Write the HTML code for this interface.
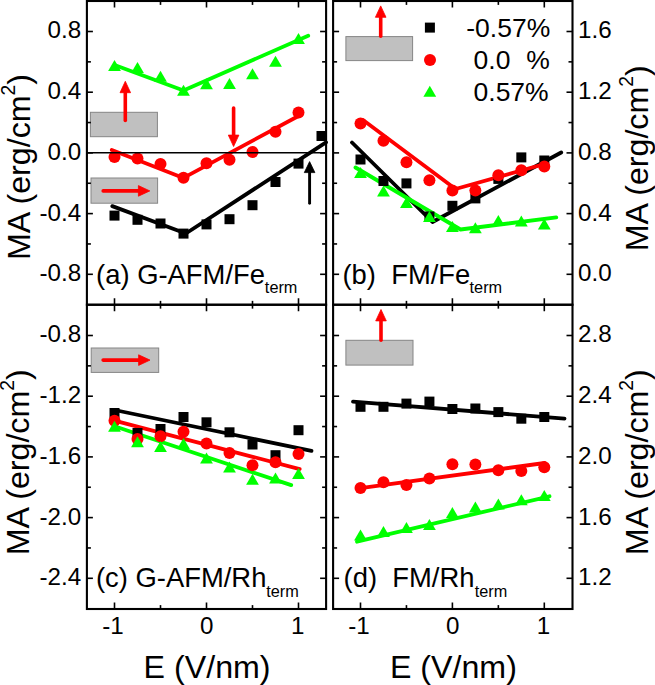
<!DOCTYPE html>
<html><head><meta charset="utf-8"><style>
html,body{margin:0;padding:0;background:#fff;width:655px;height:685px;overflow:hidden}
svg{display:block}
text{font-family:"Liberation Sans",sans-serif;fill:#000}
</style></head><body>
<svg width="655" height="685" viewBox="0 0 655 685">
<rect width="655" height="685" fill="#fff"/>
<rect x="90.40" y="112.30" width="67.00" height="24.40" fill="#c0c0c0" stroke="#858585" stroke-width="1"/>
<rect x="91.00" y="178.00" width="66.60" height="25.20" fill="#c0c0c0" stroke="#858585" stroke-width="1"/>
<line x1="125.30" y1="120.50" x2="125.30" y2="90.70" stroke="#ff0000" stroke-width="3.6" stroke-linecap="round"/>
<path d="M125.30 81.30L130.60 92.70L120.00 92.70Z" fill="#ff0000" stroke="#ff0000" stroke-width="0.8" stroke-linejoin="round"/>
<line x1="233.60" y1="108.00" x2="233.60" y2="137.10" stroke="#ff0000" stroke-width="3.6" stroke-linecap="round"/>
<path d="M233.60 146.50L228.30 135.10L238.90 135.10Z" fill="#ff0000" stroke="#ff0000" stroke-width="0.8" stroke-linejoin="round"/>
<line x1="103.20" y1="190.90" x2="140.40" y2="190.90" stroke="#ff0000" stroke-width="3.6" stroke-linecap="round"/>
<path d="M149.80 190.90L138.40 196.20L138.40 185.60Z" fill="#ff0000" stroke="#ff0000" stroke-width="0.8" stroke-linejoin="round"/>
<line x1="309.60" y1="203.30" x2="309.60" y2="170.60" stroke="#000" stroke-width="2.9" stroke-linecap="round"/>
<path d="M309.60 161.60L314.90 172.60L304.30 172.60Z" fill="#000" stroke="#000" stroke-width="0.8" stroke-linejoin="round"/>
<polyline points="112.30,206.10 185.80,233.50 326.00,142.40" fill="none" stroke="#000" stroke-width="3.8" stroke-linejoin="round" stroke-linecap="round"/>
<polyline points="111.80,150.00 183.50,177.90 298.50,116.00" fill="none" stroke="#ff0000" stroke-width="3.8" stroke-linejoin="round" stroke-linecap="round"/>
<polyline points="114.50,65.00 183.50,90.50 308.20,35.70" fill="none" stroke="#00ff00" stroke-width="3.8" stroke-linejoin="round" stroke-linecap="round"/>
<rect x="109.50" y="210.60" width="10" height="10" fill="#000"/>
<rect x="132.50" y="214.80" width="10" height="10" fill="#000"/>
<rect x="155.50" y="218.50" width="10" height="10" fill="#000"/>
<rect x="178.50" y="228.60" width="10" height="10" fill="#000"/>
<rect x="201.50" y="219.40" width="10" height="10" fill="#000"/>
<rect x="224.50" y="214.20" width="10" height="10" fill="#000"/>
<rect x="247.50" y="200.20" width="10" height="10" fill="#000"/>
<rect x="270.50" y="177.00" width="10" height="10" fill="#000"/>
<rect x="293.50" y="158.60" width="10" height="10" fill="#000"/>
<rect x="316.50" y="131.00" width="10" height="10" fill="#000"/>
<circle cx="114.50" cy="157.00" r="6" fill="#ff0000"/>
<circle cx="137.50" cy="158.60" r="6" fill="#ff0000"/>
<circle cx="160.50" cy="163.90" r="6" fill="#ff0000"/>
<circle cx="183.50" cy="177.70" r="6" fill="#ff0000"/>
<circle cx="206.50" cy="163.30" r="6" fill="#ff0000"/>
<circle cx="229.50" cy="159.80" r="6" fill="#ff0000"/>
<circle cx="252.50" cy="152.00" r="6" fill="#ff0000"/>
<circle cx="275.50" cy="131.70" r="6" fill="#ff0000"/>
<circle cx="298.50" cy="112.60" r="6" fill="#ff0000"/>
<path d="M114.50 60.00L120.90 71.00L108.10 71.00Z" fill="#00ff00"/>
<path d="M137.50 61.90L143.90 72.90L131.10 72.90Z" fill="#00ff00"/>
<path d="M160.50 70.70L166.90 81.70L154.10 81.70Z" fill="#00ff00"/>
<path d="M183.50 84.70L189.90 95.70L177.10 95.70Z" fill="#00ff00"/>
<path d="M206.50 78.30L212.90 89.30L200.10 89.30Z" fill="#00ff00"/>
<path d="M229.50 77.90L235.90 88.90L223.10 88.90Z" fill="#00ff00"/>
<path d="M252.50 68.20L258.90 79.20L246.10 79.20Z" fill="#00ff00"/>
<path d="M275.50 55.70L281.90 66.70L269.10 66.70Z" fill="#00ff00"/>
<path d="M298.50 33.10L304.90 44.10L292.10 44.10Z" fill="#00ff00"/>
<rect x="345.90" y="36.60" width="66.70" height="24.00" fill="#c0c0c0" stroke="#858585" stroke-width="1"/>
<line x1="380.70" y1="36.20" x2="380.70" y2="15.30" stroke="#ff0000" stroke-width="3.6" stroke-linecap="round"/>
<path d="M380.70 5.90L386.00 17.30L375.40 17.30Z" fill="#ff0000" stroke="#ff0000" stroke-width="0.8" stroke-linejoin="round"/>
<polyline points="352.00,142.50 432.50,222.00 561.20,152.50" fill="none" stroke="#000" stroke-width="3.8" stroke-linejoin="round" stroke-linecap="round"/>
<polyline points="363.00,120.00 455.50,189.00 544.50,164.00" fill="none" stroke="#ff0000" stroke-width="3.8" stroke-linejoin="round" stroke-linecap="round"/>
<polyline points="355.50,167.50 460.50,229.50 556.30,217.40" fill="none" stroke="#00ff00" stroke-width="3.8" stroke-linejoin="round" stroke-linecap="round"/>
<rect x="355.50" y="154.50" width="10" height="10" fill="#000"/>
<rect x="378.47" y="176.00" width="10" height="10" fill="#000"/>
<rect x="401.45" y="178.40" width="10" height="10" fill="#000"/>
<rect x="424.42" y="211.50" width="10" height="10" fill="#000"/>
<rect x="447.40" y="200.80" width="10" height="10" fill="#000"/>
<rect x="470.38" y="193.40" width="10" height="10" fill="#000"/>
<rect x="493.35" y="173.90" width="10" height="10" fill="#000"/>
<rect x="516.33" y="152.40" width="10" height="10" fill="#000"/>
<rect x="539.30" y="155.50" width="10" height="10" fill="#000"/>
<circle cx="360.50" cy="123.50" r="6" fill="#ff0000"/>
<circle cx="383.47" cy="140.70" r="6" fill="#ff0000"/>
<circle cx="406.45" cy="162.30" r="6" fill="#ff0000"/>
<circle cx="429.42" cy="180.30" r="6" fill="#ff0000"/>
<circle cx="452.40" cy="190.60" r="6" fill="#ff0000"/>
<circle cx="475.38" cy="190.60" r="6" fill="#ff0000"/>
<circle cx="498.35" cy="175.20" r="6" fill="#ff0000"/>
<circle cx="521.33" cy="170.30" r="6" fill="#ff0000"/>
<circle cx="544.30" cy="166.60" r="6" fill="#ff0000"/>
<path d="M360.50 166.90L366.90 177.90L354.10 177.90Z" fill="#00ff00"/>
<path d="M383.47 185.50L389.87 196.50L377.07 196.50Z" fill="#00ff00"/>
<path d="M406.45 196.90L412.85 207.90L400.05 207.90Z" fill="#00ff00"/>
<path d="M429.42 211.00L435.82 222.00L423.02 222.00Z" fill="#00ff00"/>
<path d="M452.40 221.00L458.80 232.00L446.00 232.00Z" fill="#00ff00"/>
<path d="M475.38 222.20L481.77 233.20L468.98 233.20Z" fill="#00ff00"/>
<path d="M498.35 214.90L504.75 225.90L491.95 225.90Z" fill="#00ff00"/>
<path d="M521.33 215.40L527.73 226.40L514.93 226.40Z" fill="#00ff00"/>
<path d="M544.30 218.50L550.70 229.50L537.90 229.50Z" fill="#00ff00"/>
<rect x="424.90" y="22.60" width="10" height="10" fill="#000"/>
<circle cx="430.00" cy="60.00" r="6" fill="#ff0000"/>
<path d="M429.80 85.80L436.20 96.80L423.40 96.80Z" fill="#00ff00"/>
<rect x="91.20" y="348.00" width="67.50" height="24.40" fill="#c0c0c0" stroke="#858585" stroke-width="1"/>
<line x1="103.10" y1="360.10" x2="140.60" y2="360.10" stroke="#ff0000" stroke-width="3.6" stroke-linecap="round"/>
<path d="M150.00 360.10L138.60 365.40L138.60 354.80Z" fill="#ff0000" stroke="#ff0000" stroke-width="0.8" stroke-linejoin="round"/>
<polyline points="114.50,410.00 311.50,450.90" fill="none" stroke="#000" stroke-width="3.8" stroke-linejoin="round" stroke-linecap="round"/>
<polyline points="114.50,420.70 299.70,469.10" fill="none" stroke="#ff0000" stroke-width="3.8" stroke-linejoin="round" stroke-linecap="round"/>
<polyline points="114.50,426.30 291.20,485.10" fill="none" stroke="#00ff00" stroke-width="3.8" stroke-linejoin="round" stroke-linecap="round"/>
<rect x="109.50" y="408.00" width="10" height="10" fill="#000"/>
<rect x="132.50" y="428.00" width="10" height="10" fill="#000"/>
<rect x="155.50" y="424.00" width="10" height="10" fill="#000"/>
<rect x="178.50" y="412.00" width="10" height="10" fill="#000"/>
<rect x="201.50" y="417.30" width="10" height="10" fill="#000"/>
<rect x="224.50" y="427.30" width="10" height="10" fill="#000"/>
<rect x="247.50" y="439.50" width="10" height="10" fill="#000"/>
<rect x="270.50" y="450.20" width="10" height="10" fill="#000"/>
<rect x="293.50" y="425.20" width="10" height="10" fill="#000"/>
<circle cx="114.50" cy="420.70" r="6" fill="#ff0000"/>
<circle cx="137.50" cy="439.00" r="6" fill="#ff0000"/>
<circle cx="160.50" cy="436.30" r="6" fill="#ff0000"/>
<circle cx="183.50" cy="431.70" r="6" fill="#ff0000"/>
<circle cx="206.50" cy="443.40" r="6" fill="#ff0000"/>
<circle cx="229.50" cy="453.00" r="6" fill="#ff0000"/>
<circle cx="252.50" cy="465.20" r="6" fill="#ff0000"/>
<circle cx="275.50" cy="462.20" r="6" fill="#ff0000"/>
<circle cx="298.50" cy="454.10" r="6" fill="#ff0000"/>
<path d="M114.50 420.70L120.90 431.70L108.10 431.70Z" fill="#00ff00"/>
<path d="M137.50 436.30L143.90 447.30L131.10 447.30Z" fill="#00ff00"/>
<path d="M160.50 440.90L166.90 451.90L154.10 451.90Z" fill="#00ff00"/>
<path d="M183.50 438.10L189.90 449.10L177.10 449.10Z" fill="#00ff00"/>
<path d="M206.50 452.50L212.90 463.50L200.10 463.50Z" fill="#00ff00"/>
<path d="M229.50 461.40L235.90 472.40L223.10 472.40Z" fill="#00ff00"/>
<path d="M252.50 473.80L258.90 484.80L246.10 484.80Z" fill="#00ff00"/>
<path d="M275.50 472.50L281.90 483.50L269.10 483.50Z" fill="#00ff00"/>
<path d="M298.50 467.90L304.90 478.90L292.10 478.90Z" fill="#00ff00"/>
<rect x="345.90" y="340.30" width="67.10" height="24.80" fill="#c0c0c0" stroke="#858585" stroke-width="1"/>
<line x1="381.00" y1="340.30" x2="381.00" y2="318.90" stroke="#ff0000" stroke-width="3.6" stroke-linecap="round"/>
<path d="M381.00 309.50L386.30 320.90L375.70 320.90Z" fill="#ff0000" stroke="#ff0000" stroke-width="0.8" stroke-linejoin="round"/>
<polyline points="353.00,401.70 564.50,418.60" fill="none" stroke="#000" stroke-width="3.8" stroke-linejoin="round" stroke-linecap="round"/>
<polyline points="360.50,488.10 544.70,463.00" fill="none" stroke="#ff0000" stroke-width="3.8" stroke-linejoin="round" stroke-linecap="round"/>
<polyline points="357.00,541.70 549.50,496.30" fill="none" stroke="#00ff00" stroke-width="3.8" stroke-linejoin="round" stroke-linecap="round"/>
<rect x="355.50" y="401.80" width="10" height="10" fill="#000"/>
<rect x="378.47" y="401.80" width="10" height="10" fill="#000"/>
<rect x="401.45" y="398.60" width="10" height="10" fill="#000"/>
<rect x="424.42" y="396.60" width="10" height="10" fill="#000"/>
<rect x="447.40" y="404.00" width="10" height="10" fill="#000"/>
<rect x="470.38" y="403.50" width="10" height="10" fill="#000"/>
<rect x="493.35" y="407.10" width="10" height="10" fill="#000"/>
<rect x="516.33" y="413.70" width="10" height="10" fill="#000"/>
<rect x="539.30" y="412.00" width="10" height="10" fill="#000"/>
<circle cx="360.50" cy="488.10" r="6" fill="#ff0000"/>
<circle cx="383.47" cy="482.30" r="6" fill="#ff0000"/>
<circle cx="406.45" cy="484.90" r="6" fill="#ff0000"/>
<circle cx="429.42" cy="478.50" r="6" fill="#ff0000"/>
<circle cx="452.40" cy="464.30" r="6" fill="#ff0000"/>
<circle cx="475.38" cy="464.50" r="6" fill="#ff0000"/>
<circle cx="498.35" cy="470.30" r="6" fill="#ff0000"/>
<circle cx="521.33" cy="471.10" r="6" fill="#ff0000"/>
<circle cx="544.30" cy="467.30" r="6" fill="#ff0000"/>
<path d="M360.50 529.60L366.90 540.60L354.10 540.60Z" fill="#00ff00"/>
<path d="M383.47 526.00L389.87 537.00L377.07 537.00Z" fill="#00ff00"/>
<path d="M406.45 522.10L412.85 533.10L400.05 533.10Z" fill="#00ff00"/>
<path d="M429.42 518.90L435.82 529.90L423.02 529.90Z" fill="#00ff00"/>
<path d="M452.40 507.10L458.80 518.10L446.00 518.10Z" fill="#00ff00"/>
<path d="M475.38 501.50L481.77 512.50L468.98 512.50Z" fill="#00ff00"/>
<path d="M498.35 498.60L504.75 509.60L491.95 509.60Z" fill="#00ff00"/>
<path d="M521.33 494.30L527.73 505.30L514.93 505.30Z" fill="#00ff00"/>
<path d="M544.30 489.90L550.70 500.90L537.90 500.90Z" fill="#00ff00"/>
<line x1="86.9" y1="152.8" x2="326.1" y2="152.8" stroke="#000" stroke-width="1.6"/>
<rect x="86.9" y="1.0" width="239.20" height="303.75" fill="none" stroke="#000" stroke-width="2.1"/>
<rect x="86.9" y="304.75" width="239.20" height="304.25" fill="none" stroke="#000" stroke-width="2.1"/>
<rect x="333.1" y="1.0" width="239.40" height="303.75" fill="none" stroke="#000" stroke-width="2.1"/>
<rect x="333.1" y="304.75" width="239.40" height="304.25" fill="none" stroke="#000" stroke-width="2.1"/>
<line x1="114.50" y1="1.0" x2="114.50" y2="7.50" stroke="#000" stroke-width="1.6"/>
<line x1="114.50" y1="304.75" x2="114.50" y2="298.25" stroke="#000" stroke-width="1.6"/>
<line x1="206.50" y1="1.0" x2="206.50" y2="7.50" stroke="#000" stroke-width="1.6"/>
<line x1="206.50" y1="304.75" x2="206.50" y2="298.25" stroke="#000" stroke-width="1.6"/>
<line x1="298.50" y1="1.0" x2="298.50" y2="7.50" stroke="#000" stroke-width="1.6"/>
<line x1="298.50" y1="304.75" x2="298.50" y2="298.25" stroke="#000" stroke-width="1.6"/>
<line x1="160.50" y1="1.0" x2="160.50" y2="4.90" stroke="#000" stroke-width="1.6"/>
<line x1="160.50" y1="304.75" x2="160.50" y2="300.85" stroke="#000" stroke-width="1.6"/>
<line x1="252.50" y1="1.0" x2="252.50" y2="4.90" stroke="#000" stroke-width="1.6"/>
<line x1="252.50" y1="304.75" x2="252.50" y2="300.85" stroke="#000" stroke-width="1.6"/>
<line x1="114.50" y1="304.75" x2="114.50" y2="311.25" stroke="#000" stroke-width="1.6"/>
<line x1="114.50" y1="609.0" x2="114.50" y2="602.50" stroke="#000" stroke-width="1.6"/>
<line x1="206.50" y1="304.75" x2="206.50" y2="311.25" stroke="#000" stroke-width="1.6"/>
<line x1="206.50" y1="609.0" x2="206.50" y2="602.50" stroke="#000" stroke-width="1.6"/>
<line x1="298.50" y1="304.75" x2="298.50" y2="311.25" stroke="#000" stroke-width="1.6"/>
<line x1="298.50" y1="609.0" x2="298.50" y2="602.50" stroke="#000" stroke-width="1.6"/>
<line x1="160.50" y1="304.75" x2="160.50" y2="308.65" stroke="#000" stroke-width="1.6"/>
<line x1="160.50" y1="609.0" x2="160.50" y2="605.10" stroke="#000" stroke-width="1.6"/>
<line x1="252.50" y1="304.75" x2="252.50" y2="308.65" stroke="#000" stroke-width="1.6"/>
<line x1="252.50" y1="609.0" x2="252.50" y2="605.10" stroke="#000" stroke-width="1.6"/>
<line x1="360.50" y1="1.0" x2="360.50" y2="7.50" stroke="#000" stroke-width="1.6"/>
<line x1="360.50" y1="304.75" x2="360.50" y2="298.25" stroke="#000" stroke-width="1.6"/>
<line x1="452.40" y1="1.0" x2="452.40" y2="7.50" stroke="#000" stroke-width="1.6"/>
<line x1="452.40" y1="304.75" x2="452.40" y2="298.25" stroke="#000" stroke-width="1.6"/>
<line x1="544.30" y1="1.0" x2="544.30" y2="7.50" stroke="#000" stroke-width="1.6"/>
<line x1="544.30" y1="304.75" x2="544.30" y2="298.25" stroke="#000" stroke-width="1.6"/>
<line x1="406.45" y1="1.0" x2="406.45" y2="4.90" stroke="#000" stroke-width="1.6"/>
<line x1="406.45" y1="304.75" x2="406.45" y2="300.85" stroke="#000" stroke-width="1.6"/>
<line x1="498.35" y1="1.0" x2="498.35" y2="4.90" stroke="#000" stroke-width="1.6"/>
<line x1="498.35" y1="304.75" x2="498.35" y2="300.85" stroke="#000" stroke-width="1.6"/>
<line x1="360.50" y1="304.75" x2="360.50" y2="311.25" stroke="#000" stroke-width="1.6"/>
<line x1="360.50" y1="609.0" x2="360.50" y2="602.50" stroke="#000" stroke-width="1.6"/>
<line x1="452.40" y1="304.75" x2="452.40" y2="311.25" stroke="#000" stroke-width="1.6"/>
<line x1="452.40" y1="609.0" x2="452.40" y2="602.50" stroke="#000" stroke-width="1.6"/>
<line x1="544.30" y1="304.75" x2="544.30" y2="311.25" stroke="#000" stroke-width="1.6"/>
<line x1="544.30" y1="609.0" x2="544.30" y2="602.50" stroke="#000" stroke-width="1.6"/>
<line x1="406.45" y1="304.75" x2="406.45" y2="308.65" stroke="#000" stroke-width="1.6"/>
<line x1="406.45" y1="609.0" x2="406.45" y2="605.10" stroke="#000" stroke-width="1.6"/>
<line x1="498.35" y1="304.75" x2="498.35" y2="308.65" stroke="#000" stroke-width="1.6"/>
<line x1="498.35" y1="609.0" x2="498.35" y2="605.10" stroke="#000" stroke-width="1.6"/>
<line x1="86.9" y1="31.50" x2="92.90" y2="31.50" stroke="#000" stroke-width="1.6"/>
<line x1="326.1" y1="31.50" x2="320.10" y2="31.50" stroke="#000" stroke-width="1.6"/>
<line x1="86.9" y1="92.20" x2="92.90" y2="92.20" stroke="#000" stroke-width="1.6"/>
<line x1="326.1" y1="92.20" x2="320.10" y2="92.20" stroke="#000" stroke-width="1.6"/>
<line x1="86.9" y1="152.90" x2="92.90" y2="152.90" stroke="#000" stroke-width="1.6"/>
<line x1="326.1" y1="152.90" x2="320.10" y2="152.90" stroke="#000" stroke-width="1.6"/>
<line x1="86.9" y1="213.60" x2="92.90" y2="213.60" stroke="#000" stroke-width="1.6"/>
<line x1="326.1" y1="213.60" x2="320.10" y2="213.60" stroke="#000" stroke-width="1.6"/>
<line x1="86.9" y1="274.30" x2="92.90" y2="274.30" stroke="#000" stroke-width="1.6"/>
<line x1="326.1" y1="274.30" x2="320.10" y2="274.30" stroke="#000" stroke-width="1.6"/>
<line x1="86.9" y1="61.85" x2="90.90" y2="61.85" stroke="#000" stroke-width="1.6"/>
<line x1="326.1" y1="61.85" x2="322.10" y2="61.85" stroke="#000" stroke-width="1.6"/>
<line x1="86.9" y1="122.55" x2="90.90" y2="122.55" stroke="#000" stroke-width="1.6"/>
<line x1="326.1" y1="122.55" x2="322.10" y2="122.55" stroke="#000" stroke-width="1.6"/>
<line x1="86.9" y1="183.25" x2="90.90" y2="183.25" stroke="#000" stroke-width="1.6"/>
<line x1="326.1" y1="183.25" x2="322.10" y2="183.25" stroke="#000" stroke-width="1.6"/>
<line x1="86.9" y1="243.95" x2="90.90" y2="243.95" stroke="#000" stroke-width="1.6"/>
<line x1="326.1" y1="243.95" x2="322.10" y2="243.95" stroke="#000" stroke-width="1.6"/>
<line x1="333.1" y1="31.50" x2="339.10" y2="31.50" stroke="#000" stroke-width="1.6"/>
<line x1="572.5" y1="31.50" x2="566.50" y2="31.50" stroke="#000" stroke-width="1.6"/>
<line x1="333.1" y1="92.20" x2="339.10" y2="92.20" stroke="#000" stroke-width="1.6"/>
<line x1="572.5" y1="92.20" x2="566.50" y2="92.20" stroke="#000" stroke-width="1.6"/>
<line x1="333.1" y1="152.90" x2="339.10" y2="152.90" stroke="#000" stroke-width="1.6"/>
<line x1="572.5" y1="152.90" x2="566.50" y2="152.90" stroke="#000" stroke-width="1.6"/>
<line x1="333.1" y1="213.60" x2="339.10" y2="213.60" stroke="#000" stroke-width="1.6"/>
<line x1="572.5" y1="213.60" x2="566.50" y2="213.60" stroke="#000" stroke-width="1.6"/>
<line x1="333.1" y1="274.30" x2="339.10" y2="274.30" stroke="#000" stroke-width="1.6"/>
<line x1="572.5" y1="274.30" x2="566.50" y2="274.30" stroke="#000" stroke-width="1.6"/>
<line x1="333.1" y1="61.85" x2="337.10" y2="61.85" stroke="#000" stroke-width="1.6"/>
<line x1="572.5" y1="61.85" x2="568.50" y2="61.85" stroke="#000" stroke-width="1.6"/>
<line x1="333.1" y1="122.55" x2="337.10" y2="122.55" stroke="#000" stroke-width="1.6"/>
<line x1="572.5" y1="122.55" x2="568.50" y2="122.55" stroke="#000" stroke-width="1.6"/>
<line x1="333.1" y1="183.25" x2="337.10" y2="183.25" stroke="#000" stroke-width="1.6"/>
<line x1="572.5" y1="183.25" x2="568.50" y2="183.25" stroke="#000" stroke-width="1.6"/>
<line x1="333.1" y1="243.95" x2="337.10" y2="243.95" stroke="#000" stroke-width="1.6"/>
<line x1="572.5" y1="243.95" x2="568.50" y2="243.95" stroke="#000" stroke-width="1.6"/>
<line x1="86.9" y1="335.50" x2="92.90" y2="335.50" stroke="#000" stroke-width="1.6"/>
<line x1="326.1" y1="335.50" x2="320.10" y2="335.50" stroke="#000" stroke-width="1.6"/>
<line x1="86.9" y1="396.20" x2="92.90" y2="396.20" stroke="#000" stroke-width="1.6"/>
<line x1="326.1" y1="396.20" x2="320.10" y2="396.20" stroke="#000" stroke-width="1.6"/>
<line x1="86.9" y1="456.90" x2="92.90" y2="456.90" stroke="#000" stroke-width="1.6"/>
<line x1="326.1" y1="456.90" x2="320.10" y2="456.90" stroke="#000" stroke-width="1.6"/>
<line x1="86.9" y1="517.60" x2="92.90" y2="517.60" stroke="#000" stroke-width="1.6"/>
<line x1="326.1" y1="517.60" x2="320.10" y2="517.60" stroke="#000" stroke-width="1.6"/>
<line x1="86.9" y1="578.30" x2="92.90" y2="578.30" stroke="#000" stroke-width="1.6"/>
<line x1="326.1" y1="578.30" x2="320.10" y2="578.30" stroke="#000" stroke-width="1.6"/>
<line x1="86.9" y1="365.85" x2="90.90" y2="365.85" stroke="#000" stroke-width="1.6"/>
<line x1="326.1" y1="365.85" x2="322.10" y2="365.85" stroke="#000" stroke-width="1.6"/>
<line x1="86.9" y1="426.55" x2="90.90" y2="426.55" stroke="#000" stroke-width="1.6"/>
<line x1="326.1" y1="426.55" x2="322.10" y2="426.55" stroke="#000" stroke-width="1.6"/>
<line x1="86.9" y1="487.25" x2="90.90" y2="487.25" stroke="#000" stroke-width="1.6"/>
<line x1="326.1" y1="487.25" x2="322.10" y2="487.25" stroke="#000" stroke-width="1.6"/>
<line x1="86.9" y1="547.95" x2="90.90" y2="547.95" stroke="#000" stroke-width="1.6"/>
<line x1="326.1" y1="547.95" x2="322.10" y2="547.95" stroke="#000" stroke-width="1.6"/>
<line x1="333.1" y1="335.50" x2="339.10" y2="335.50" stroke="#000" stroke-width="1.6"/>
<line x1="572.5" y1="335.50" x2="566.50" y2="335.50" stroke="#000" stroke-width="1.6"/>
<line x1="333.1" y1="396.20" x2="339.10" y2="396.20" stroke="#000" stroke-width="1.6"/>
<line x1="572.5" y1="396.20" x2="566.50" y2="396.20" stroke="#000" stroke-width="1.6"/>
<line x1="333.1" y1="456.90" x2="339.10" y2="456.90" stroke="#000" stroke-width="1.6"/>
<line x1="572.5" y1="456.90" x2="566.50" y2="456.90" stroke="#000" stroke-width="1.6"/>
<line x1="333.1" y1="517.60" x2="339.10" y2="517.60" stroke="#000" stroke-width="1.6"/>
<line x1="572.5" y1="517.60" x2="566.50" y2="517.60" stroke="#000" stroke-width="1.6"/>
<line x1="333.1" y1="578.30" x2="339.10" y2="578.30" stroke="#000" stroke-width="1.6"/>
<line x1="572.5" y1="578.30" x2="566.50" y2="578.30" stroke="#000" stroke-width="1.6"/>
<line x1="333.1" y1="365.85" x2="337.10" y2="365.85" stroke="#000" stroke-width="1.6"/>
<line x1="572.5" y1="365.85" x2="568.50" y2="365.85" stroke="#000" stroke-width="1.6"/>
<line x1="333.1" y1="426.55" x2="337.10" y2="426.55" stroke="#000" stroke-width="1.6"/>
<line x1="572.5" y1="426.55" x2="568.50" y2="426.55" stroke="#000" stroke-width="1.6"/>
<line x1="333.1" y1="487.25" x2="337.10" y2="487.25" stroke="#000" stroke-width="1.6"/>
<line x1="572.5" y1="487.25" x2="568.50" y2="487.25" stroke="#000" stroke-width="1.6"/>
<line x1="333.1" y1="547.95" x2="337.10" y2="547.95" stroke="#000" stroke-width="1.6"/>
<line x1="572.5" y1="547.95" x2="568.50" y2="547.95" stroke="#000" stroke-width="1.6"/>
<text x="81.20" y="38.40" font-size="24.2" text-anchor="end" >0.8</text>
<text x="81.20" y="99.10" font-size="24.2" text-anchor="end" >0.4</text>
<text x="81.20" y="159.80" font-size="24.2" text-anchor="end" >0.0</text>
<text x="81.20" y="220.50" font-size="24.2" text-anchor="end" >-0.4</text>
<text x="81.20" y="281.20" font-size="24.2" text-anchor="end" >-0.8</text>
<text x="81.20" y="342.40" font-size="24.2" text-anchor="end" >-0.8</text>
<text x="81.20" y="403.10" font-size="24.2" text-anchor="end" >-1.2</text>
<text x="81.20" y="463.80" font-size="24.2" text-anchor="end" >-1.6</text>
<text x="81.20" y="524.50" font-size="24.2" text-anchor="end" >-2.0</text>
<text x="81.20" y="585.20" font-size="24.2" text-anchor="end" >-2.4</text>
<text x="578.00" y="38.40" font-size="24.2" text-anchor="start" >1.6</text>
<text x="578.00" y="99.10" font-size="24.2" text-anchor="start" >1.2</text>
<text x="578.00" y="159.80" font-size="24.2" text-anchor="start" >0.8</text>
<text x="578.00" y="220.50" font-size="24.2" text-anchor="start" >0.4</text>
<text x="578.00" y="281.20" font-size="24.2" text-anchor="start" >0.0</text>
<text x="578.00" y="342.40" font-size="24.2" text-anchor="start" >2.8</text>
<text x="578.00" y="403.10" font-size="24.2" text-anchor="start" >2.4</text>
<text x="578.00" y="463.80" font-size="24.2" text-anchor="start" >2.0</text>
<text x="578.00" y="524.50" font-size="24.2" text-anchor="start" >1.6</text>
<text x="578.00" y="585.20" font-size="24.2" text-anchor="start" >1.2</text>
<text x="113.00" y="633.60" font-size="24.2" text-anchor="middle" >-1</text>
<text x="359.00" y="633.60" font-size="24.2" text-anchor="middle" >-1</text>
<text x="206.80" y="633.60" font-size="24.2" text-anchor="middle" >0</text>
<text x="452.70" y="633.60" font-size="24.2" text-anchor="middle" >0</text>
<text x="297.70" y="633.60" font-size="24.2" text-anchor="middle" >1</text>
<text x="543.50" y="633.60" font-size="24.2" text-anchor="middle" >1</text>
<text x="143.62" y="678.00" font-size="32.2" text-anchor="start" >E (V/nm)</text>
<text x="389.92" y="678.00" font-size="32.2" text-anchor="start" >E (V/nm)</text>
<text transform="translate(30.20,259.98) rotate(-90)" font-size="32.2">MA (erg/cm<tspan font-size="19.3" dy="-14.9">2</tspan><tspan dy="14.9">)</tspan></text>
<text transform="translate(29.20,555.28) rotate(-90)" font-size="32.2">MA (erg/cm<tspan font-size="19.3" dy="-14.9">2</tspan><tspan dy="14.9">)</tspan></text>
<text transform="translate(647.90,251.28) rotate(-90)" font-size="32.2">MA (erg/cm<tspan font-size="19.3" dy="-14.9">2</tspan><tspan dy="14.9">)</tspan></text>
<text transform="translate(647.80,555.18) rotate(-90)" font-size="32.2">MA (erg/cm<tspan font-size="19.3" dy="-14.9">2</tspan><tspan dy="14.9">)</tspan></text>
<text x="96.06" y="283.80" font-size="27.4">(a) G-AFM/Fe</text>
<text x="264.87" y="293.20" font-size="16.3">term</text>
<text x="342.46" y="284.00" font-size="27.4">(b) &#160;FM/Fe</text>
<text x="469.57" y="293.20" font-size="16.3">term</text>
<text x="95.96" y="586.60" font-size="27.4">(c) G-AFM/Rh</text>
<text x="266.27" y="596.60" font-size="16.3">term</text>
<text x="343.56" y="586.80" font-size="27.4">(d) &#160;FM/Rh</text>
<text x="474.67" y="596.60" font-size="16.3">term</text>
<text x="466.24" y="36.80" font-size="26.5" text-anchor="start" >-0.57%</text>
<text x="473.54" y="69.30" font-size="26.5" text-anchor="start" >0.0</text>
<text x="526.14" y="69.30" font-size="26.5" text-anchor="start" >%</text>
<text x="473.54" y="101.30" font-size="26.5" text-anchor="start" >0.57%</text>
</svg></body></html>
